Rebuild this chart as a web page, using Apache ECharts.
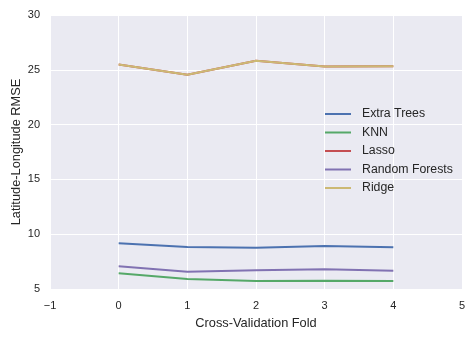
<!DOCTYPE html>
<html>
<head>
<meta charset="utf-8">
<script src="https://cdn.jsdelivr.net/npm/echarts@6/dist/echarts.min.js"></script>
<style>html,body{margin:0;padding:0;background:#fff}#c{width:474px;height:338px}</style>
</head>
<body>
<div id="c"></div>
<script>
const folds = [0, 1, 2, 3, 4];
const seriesNames = ['Extra Trees', 'KNN', 'Lasso', 'Random Forests', 'Ridge'];
const extraTrees = [9.18, 8.84, 8.76, 8.92, 8.81];
const knn = [6.43, 5.91, 5.74, 5.76, 5.74];
const lasso = [25.48, 24.54, 25.82, 25.30, 25.33];
const randomForests = [7.07, 6.58, 6.71, 6.80, 6.67];
const ridge = [25.48, 24.54, 25.82, 25.30, 25.33];
const colors = ['#4C72B0', '#55A868', '#C44E52', '#8172B2', '#CCB974'];
const allValues = [extraTrees, knn, lasso, randomForests, ridge];

const font = '"Liberation Sans", Arial, sans-serif';
const txt = '#262626';
const minus = v => String(v).replace('-', '\u2212');
const chart = echarts.init(document.getElementById('c'));
chart.setOption({
  animation: false,
  color: colors,
  grid: {left: 50, right: 12, top: 15, bottom: 49, show: true, backgroundColor: '#EAEAF2', borderWidth: 0,
         containLabel: false, outerBoundsMode: 'none'},
  legend: {
    orient: 'vertical', left: 320, top: 102,
    icon: 'rect', itemWidth: 26, itemHeight: 2, itemGap: 4.5,
    textStyle: {fontFamily: font, fontSize: 12.3, color: txt, lineHeight: 14, padding: [0, 0, 0, 6]},
    data: seriesNames
  },
  xAxis: {
    type: 'value', min: -1, max: 5, interval: 1,
    name: 'Cross-Validation Fold', nameLocation: 'middle', nameGap: 28, nameMoveOverlap: false,
    nameTextStyle: {fontFamily: font, fontSize: 12.8, color: txt},
    axisLine: {show: false}, axisTick: {show: false},
    axisLabel: {fontFamily: font, fontSize: 11, color: txt, margin: 11, formatter: minus},
    splitLine: {lineStyle: {color: '#ffffff', width: 1}}
  },
  yAxis: {
    type: 'value', min: 5, max: 30, interval: 5,
    name: 'Latitude-Longitude RMSE', nameLocation: 'middle', nameGap: 27, nameMoveOverlap: false,
    nameTextStyle: {fontFamily: font, fontSize: 12.8, color: txt},
    axisLine: {show: false}, axisTick: {show: false},
    axisLabel: {fontFamily: font, fontSize: 11, color: txt, margin: 10, formatter: minus},
    splitLine: {lineStyle: {color: '#ffffff', width: 1}}
  },
  series: seriesNames.map((n, i) => ({
    name: n, type: 'line', showSymbol: false, symbol: 'none',
    lineStyle: {width: 2},
    data: folds.map((f, j) => [f, allValues[i][j]])
  }))
});
</script>
</body>
</html>
